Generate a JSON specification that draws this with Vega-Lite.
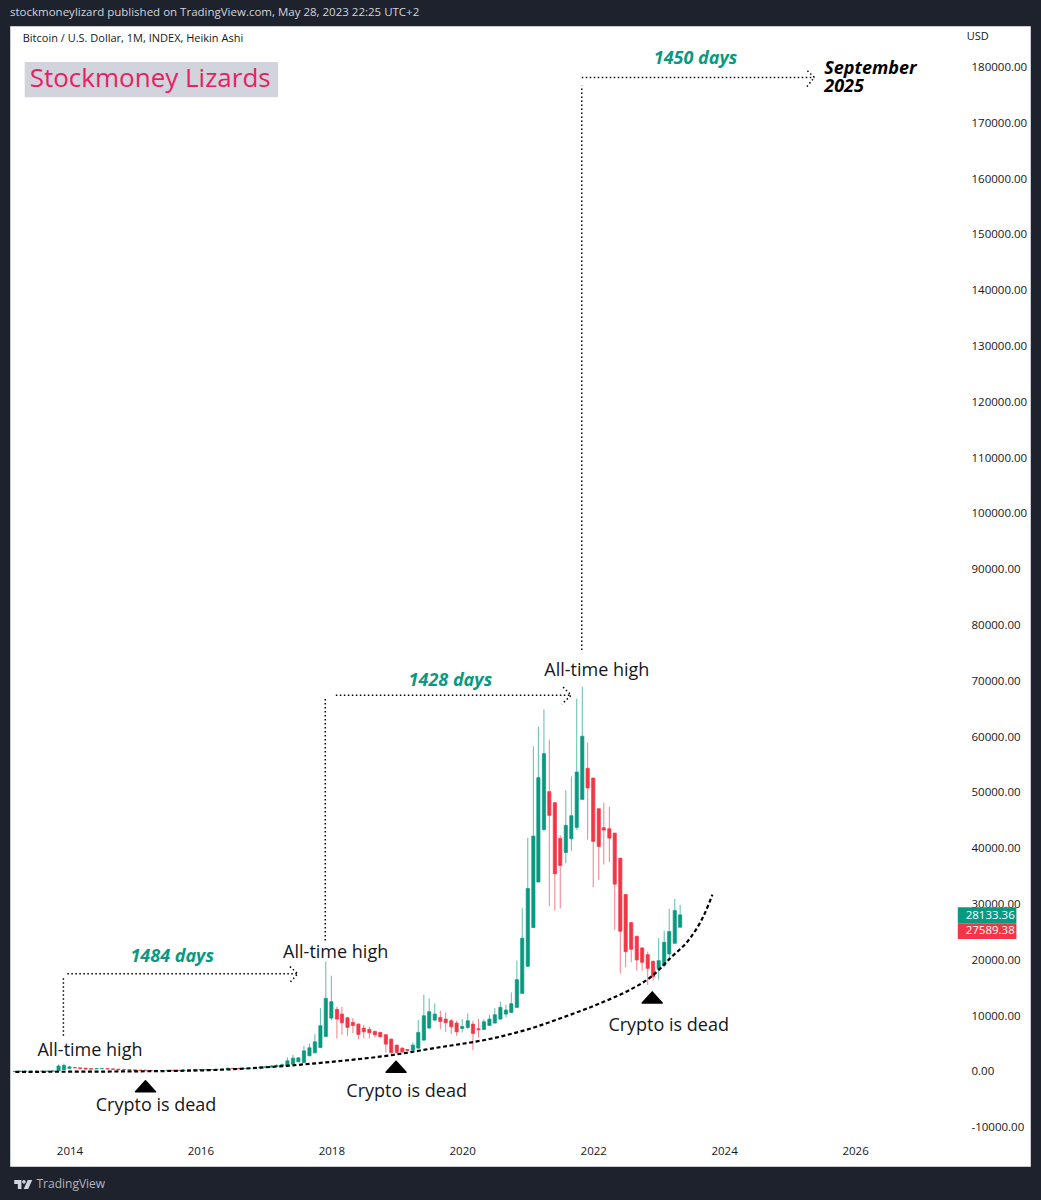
{
  "$schema": "https://vega.github.io/schema/vega-lite/v6.json",
  "autosize": {"type": "none"},
  "padding": {"left": 10, "top": 26, "right": 11, "bottom": 34},
  "width": 1020,
  "height": 1140,
  "background": "#1e222d",
  "view": {"fill": "#ffffff", "stroke": "#c8cad0"},
  "config": {"font": "Open Sans"},
  "title": {
    "text": "stockmoneylizard published on TradingView.com, May 28, 2023 22:25 UTC+2",
    "anchor": "start",
    "frame": "group",
    "color": "#d1d4dc",
    "font": "Open Sans",
    "fontSize": 11.5,
    "fontWeight": "normal",
    "offset": 8
  },
  "datasets": {
    "candles": [
      {"date": "2013-03-01", "open": 45, "close": 75, "high": 95, "low": 35},
      {"date": "2013-04-01", "open": 60, "close": 120, "high": 260, "low": 50},
      {"date": "2013-05-01", "open": 85, "close": 125, "high": 140, "low": 70},
      {"date": "2013-06-01", "open": 105, "close": 113, "high": 130, "low": 90},
      {"date": "2013-07-01", "open": 108, "close": 102, "high": 110, "low": 70},
      {"date": "2013-08-01", "open": 103, "close": 118, "high": 135, "low": 100},
      {"date": "2013-09-01", "open": 110, "close": 128, "high": 140, "low": 85},
      {"date": "2013-10-01", "open": 120, "close": 165, "high": 215, "low": 105},
      {"date": "2013-11-01", "open": 180, "close": 1050, "high": 1330, "low": 150},
      {"date": "2013-12-01", "open": 380, "close": 1150, "high": 1500, "low": 370},
      {"date": "2014-01-01", "open": 620, "close": 880, "high": 1060, "low": 600},
      {"date": "2014-02-01", "open": 750, "close": 700, "high": 860, "low": 620},
      {"date": "2014-03-01", "open": 725, "close": 590, "high": 725, "low": 450},
      {"date": "2014-04-01", "open": 660, "close": 500, "high": 660, "low": 340},
      {"date": "2014-05-01", "open": 580, "close": 470, "high": 620, "low": 420},
      {"date": "2014-06-01", "open": 520, "close": 590, "high": 680, "low": 500},
      {"date": "2014-07-01", "open": 555, "close": 590, "high": 650, "low": 550},
      {"date": "2014-08-01", "open": 570, "close": 500, "high": 590, "low": 440},
      {"date": "2014-09-01", "open": 535, "close": 440, "high": 535, "low": 360},
      {"date": "2014-10-01", "open": 490, "close": 370, "high": 490, "low": 280},
      {"date": "2014-11-01", "open": 430, "close": 360, "high": 450, "low": 310},
      {"date": "2014-12-01", "open": 395, "close": 340, "high": 395, "low": 300},
      {"date": "2015-01-01", "open": 370, "close": 250, "high": 370, "low": 150},
      {"date": "2015-02-01", "open": 310, "close": 230, "high": 310, "low": 200},
      {"date": "2015-03-01", "open": 270, "close": 260, "high": 300, "low": 240},
      {"date": "2015-04-01", "open": 265, "close": 240, "high": 265, "low": 215},
      {"date": "2015-05-01", "open": 250, "close": 235, "high": 250, "low": 230},
      {"date": "2015-06-01", "open": 240, "close": 250, "high": 270, "low": 215},
      {"date": "2015-07-01", "open": 245, "close": 280, "high": 320, "low": 240},
      {"date": "2015-08-01", "open": 265, "close": 250, "high": 285, "low": 200},
      {"date": "2015-09-01", "open": 255, "close": 235, "high": 255, "low": 225},
      {"date": "2015-10-01", "open": 245, "close": 270, "high": 330, "low": 235},
      {"date": "2015-11-01", "open": 255, "close": 340, "high": 500, "low": 250},
      {"date": "2015-12-01", "open": 300, "close": 400, "high": 470, "low": 300},
      {"date": "2016-01-01", "open": 350, "close": 400, "high": 470, "low": 350},
      {"date": "2016-02-01", "open": 375, "close": 405, "high": 450, "low": 370},
      {"date": "2016-03-01", "open": 390, "close": 415, "high": 440, "low": 390},
      {"date": "2016-04-01", "open": 400, "close": 440, "high": 470, "low": 400},
      {"date": "2016-05-01", "open": 420, "close": 480, "high": 550, "low": 420},
      {"date": "2016-06-01", "open": 450, "close": 620, "high": 780, "low": 450},
      {"date": "2016-07-01", "open": 640, "close": 600, "high": 700, "low": 580},
      {"date": "2016-08-01", "open": 620, "close": 570, "high": 620, "low": 470},
      {"date": "2016-09-01", "open": 595, "close": 600, "high": 630, "low": 570},
      {"date": "2016-10-01", "open": 600, "close": 640, "high": 740, "low": 600},
      {"date": "2016-11-01", "open": 620, "close": 720, "high": 760, "low": 620},
      {"date": "2016-12-01", "open": 670, "close": 830, "high": 980, "low": 670},
      {"date": "2017-01-01", "open": 750, "close": 920, "high": 1150, "low": 750},
      {"date": "2017-02-01", "open": 835, "close": 1050, "high": 1200, "low": 835},
      {"date": "2017-03-01", "open": 940, "close": 1150, "high": 1350, "low": 900},
      {"date": "2017-04-01", "open": 1050, "close": 1300, "high": 1500, "low": 1050},
      {"date": "2017-05-01", "open": 1077, "close": 1974, "high": 2573, "low": 1050},
      {"date": "2017-06-01", "open": 1376, "close": 2453, "high": 3052, "low": 1350},
      {"date": "2017-07-01", "open": 1795, "close": 2513, "high": 2600, "low": 1780},
      {"date": "2017-08-01", "open": 1654, "close": 3770, "high": 4668, "low": 1650},
      {"date": "2017-09-01", "open": 2872, "close": 4309, "high": 5087, "low": 2800},
      {"date": "2017-10-01", "open": 3411, "close": 5386, "high": 6763, "low": 3400},
      {"date": "2017-11-01", "open": 4369, "close": 8259, "high": 11431, "low": 4300},
      {"date": "2017-12-01", "open": 6343, "close": 13166, "high": 19810, "low": 6300},
      {"date": "2018-01-01", "open": 9635, "close": 12568, "high": 17236, "low": 9276},
      {"date": "2018-02-01", "open": 11191, "close": 9456, "high": 11670, "low": 5984},
      {"date": "2018-03-01", "open": 10353, "close": 8798, "high": 11670, "low": 6643},
      {"date": "2018-04-01", "open": 9695, "close": 7960, "high": 9875, "low": 6463},
      {"date": "2018-05-01", "open": 8857, "close": 8319, "high": 9635, "low": 6942},
      {"date": "2018-06-01", "open": 8558, "close": 6702, "high": 8678, "low": 5865},
      {"date": "2018-07-01", "open": 7840, "close": 7181, "high": 8438, "low": 6000},
      {"date": "2018-08-01", "open": 7600, "close": 7002, "high": 8079, "low": 5984},
      {"date": "2018-09-01", "open": 7241, "close": 6643, "high": 7361, "low": 6164},
      {"date": "2018-10-01", "open": 7062, "close": 6283, "high": 7181, "low": 6164},
      {"date": "2018-11-01", "open": 6643, "close": 4967, "high": 6763, "low": 3471},
      {"date": "2018-12-01", "open": 5865, "close": 3471, "high": 5984, "low": 3172},
      {"date": "2019-01-01", "open": 4787, "close": 3471, "high": 4847, "low": 3291},
      {"date": "2019-02-01", "open": 4249, "close": 3590, "high": 4369, "low": 3351},
      {"date": "2019-03-01", "open": 4009, "close": 3830, "high": 4100, "low": 3750},
      {"date": "2019-04-01", "open": 3890, "close": 4787, "high": 5266, "low": 3830},
      {"date": "2019-05-01", "open": 4249, "close": 7062, "high": 9276, "low": 4200},
      {"date": "2019-06-01", "open": 5685, "close": 10054, "high": 13825, "low": 5600},
      {"date": "2019-07-01", "open": 7840, "close": 10772, "high": 13166, "low": 7800},
      {"date": "2019-08-01", "open": 9276, "close": 10353, "high": 12269, "low": 9156},
      {"date": "2019-09-01", "open": 9755, "close": 9037, "high": 10952, "low": 7660},
      {"date": "2019-10-01", "open": 9456, "close": 8798, "high": 10653, "low": 7181},
      {"date": "2019-11-01", "open": 9156, "close": 8079, "high": 9456, "low": 6763},
      {"date": "2019-12-01", "open": 8738, "close": 7181, "high": 9156, "low": 6463},
      {"date": "2020-01-01", "open": 7780, "close": 8139, "high": 9456, "low": 7062},
      {"date": "2020-02-01", "open": 7960, "close": 9156, "high": 10473, "low": 7660},
      {"date": "2020-03-01", "open": 8558, "close": 6882, "high": 9156, "low": 3890},
      {"date": "2020-04-01", "open": 7720, "close": 7540, "high": 9456, "low": 6164},
      {"date": "2020-05-01", "open": 7600, "close": 8977, "high": 9456, "low": 7540},
      {"date": "2020-06-01", "open": 8319, "close": 9456, "high": 10234, "low": 8300},
      {"date": "2020-07-01", "open": 8738, "close": 10234, "high": 11431, "low": 8700},
      {"date": "2020-08-01", "open": 9456, "close": 11551, "high": 12568, "low": 9400},
      {"date": "2020-09-01", "open": 10353, "close": 11072, "high": 12029, "low": 9755},
      {"date": "2020-10-01", "open": 10653, "close": 12209, "high": 14244, "low": 10600},
      {"date": "2020-11-01", "open": 11551, "close": 16518, "high": 19930, "low": 11500},
      {"date": "2020-12-01", "open": 14065, "close": 23940, "high": 29326, "low": 14000},
      {"date": "2021-01-01", "open": 18913, "close": 32858, "high": 41955, "low": 18900},
      {"date": "2021-02-01", "open": 25855, "close": 42254, "high": 58354, "low": 25800},
      {"date": "2021-03-01", "open": 34025, "close": 52728, "high": 61825, "low": 34000},
      {"date": "2021-04-01", "open": 43391, "close": 57037, "high": 64937, "low": 43300},
      {"date": "2021-05-01", "open": 50214, "close": 45965, "high": 59551, "low": 29686},
      {"date": "2021-06-01", "open": 48239, "close": 35491, "high": 48239, "low": 28908},
      {"date": "2021-07-01", "open": 41835, "close": 36987, "high": 42374, "low": 29267},
      {"date": "2021-08-01", "open": 39321, "close": 44170, "high": 50453, "low": 37407},
      {"date": "2021-09-01", "open": 41775, "close": 45905, "high": 52967, "low": 39561},
      {"date": "2021-10-01", "open": 43810, "close": 53745, "high": 66912, "low": 43391},
      {"date": "2021-11-01", "open": 48838, "close": 60149, "high": 69007, "low": 48800},
      {"date": "2021-12-01", "open": 54404, "close": 50873, "high": 59012, "low": 41596},
      {"date": "2022-01-01", "open": 52668, "close": 41296, "high": 52668, "low": 33097},
      {"date": "2022-02-01", "open": 47161, "close": 40399, "high": 47161, "low": 34414},
      {"date": "2022-03-01", "open": 43750, "close": 43332, "high": 48239, "low": 37167},
      {"date": "2022-04-01", "open": 43571, "close": 41895, "high": 47461, "low": 37586},
      {"date": "2022-05-01", "open": 42793, "close": 33636, "high": 42793, "low": 25436},
      {"date": "2022-06-01", "open": 38304, "close": 25197, "high": 38304, "low": 17656},
      {"date": "2022-07-01", "open": 31781, "close": 21546, "high": 31781, "low": 18733},
      {"date": "2022-08-01", "open": 26753, "close": 21965, "high": 26753, "low": 19631},
      {"date": "2022-09-01", "open": 24299, "close": 20050, "high": 24299, "low": 18135},
      {"date": "2022-10-01", "open": 22204, "close": 19631, "high": 22324, "low": 18135},
      {"date": "2022-11-01", "open": 21007, "close": 18554, "high": 21546, "low": 15562},
      {"date": "2022-12-01", "open": 19810, "close": 17057, "high": 19930, "low": 16339},
      {"date": "2023-01-01", "open": 18434, "close": 19930, "high": 23940, "low": 16518},
      {"date": "2023-02-01", "open": 19032, "close": 23222, "high": 25316, "low": 18733},
      {"date": "2023-03-01", "open": 21127, "close": 25136, "high": 29207, "low": 19930},
      {"date": "2023-04-01", "open": 23042, "close": 28908, "high": 31002, "low": 23000},
      {"date": "2023-05-01", "open": 25915, "close": 28133, "high": 29925, "low": 25900}
    ],
    "curve": [
      {"date": "2013-03-05", "value": 0},
      {"date": "2014-07-10", "value": 50},
      {"date": "2016-01-15", "value": 270},
      {"date": "2017-02-06", "value": 898},
      {"date": "2018-01-03", "value": 1795},
      {"date": "2018-12-15", "value": 3052},
      {"date": "2019-07-06", "value": 4130},
      {"date": "2020-07-28", "value": 6284},
      {"date": "2021-01-12", "value": 7720},
      {"date": "2021-06-25", "value": 9516},
      {"date": "2022-02-02", "value": 12209},
      {"date": "2022-07-15", "value": 14544},
      {"date": "2022-11-21", "value": 17057},
      {"date": "2023-03-10", "value": 20469},
      {"date": "2023-06-28", "value": 24060},
      {"date": "2023-09-15", "value": 28369},
      {"date": "2023-10-28", "value": 31780}
    ],
    "arrows": [
      {"path": "a1", "step": 1, "date": "2013-11-28", "value": 6464},
      {"path": "a1", "step": 2, "date": "2013-11-28", "value": 16900},
      {"path": "b1", "step": 1, "date": "2013-12-20", "value": 17596},
      {"path": "b1", "step": 2, "date": "2017-06-28", "value": 17596},
      {"path": "c1", "step": 1, "date": "2017-05-15", "value": 18853},
      {"path": "c1", "step": 2, "date": "2017-06-28", "value": 17596},
      {"path": "c1", "step": 3, "date": "2017-05-15", "value": 16034},
      {"path": "a2", "step": 1, "date": "2017-11-28", "value": 23521},
      {"path": "a2", "step": 2, "date": "2017-11-28", "value": 67000},
      {"path": "b2", "step": 1, "date": "2018-01-26", "value": 67511},
      {"path": "b2", "step": 2, "date": "2021-08-31", "value": 67511},
      {"path": "c2", "step": 1, "date": "2021-07-17", "value": 68948},
      {"path": "c2", "step": 2, "date": "2021-08-31", "value": 67511},
      {"path": "c2", "step": 3, "date": "2021-07-10", "value": 65900},
      {"path": "a3", "step": 1, "date": "2021-10-29", "value": 75590},
      {"path": "a3", "step": 2, "date": "2021-10-29", "value": 176731},
      {"path": "b3", "step": 1, "date": "2021-10-29", "value": 178240},
      {"path": "b3", "step": 2, "date": "2025-05-19", "value": 178240},
      {"path": "c3", "step": 1, "date": "2025-04-10", "value": 179425},
      {"path": "c3", "step": 2, "date": "2025-05-19", "value": 178240},
      {"path": "c3", "step": 3, "date": "2025-04-05", "value": 176500}
    ]
  },
  "encoding": {
    "x": {
      "field": "date",
      "type": "temporal",
      "title": null,
      "scale": {"type": "utc", "domain": ["2013-03-03", "2028-08-06"]},
      "axis": {
        "orient": "bottom",
        "offset": -26,
        "domain": false,
        "ticks": false,
        "grid": false,
        "title": null,
        "format": "%Y",
        "labelColor": "#131722",
        "labelFont": "Open Sans",
        "labelFontSize": 11.5,
        "labelPadding": 5,
        "values": [
          {"year": 2014, "month": 1, "date": 1, "utc": true},
          {"year": 2016, "month": 1, "date": 1, "utc": true},
          {"year": 2018, "month": 1, "date": 1, "utc": true},
          {"year": 2020, "month": 1, "date": 1, "utc": true},
          {"year": 2022, "month": 1, "date": 1, "utc": true},
          {"year": 2024, "month": 1, "date": 1, "utc": true},
          {"year": 2026, "month": 1, "date": 1, "utc": true}
        ]
      }
    },
    "y": {
      "field": "value",
      "type": "quantitative",
      "title": null,
      "scale": {"domain": [-16878, 187451], "nice": false, "zero": false},
      "axis": {
        "orient": "right",
        "offset": -65,
        "domain": false,
        "ticks": false,
        "grid": false,
        "title": null,
        "labelColor": "#131722",
        "labelFont": "Open Sans",
        "labelFontSize": 11.5,
        "labelPadding": 6,
        "labelOverlap": false,
        "labelFlush": false,
        "labelExpr": "replace(format(datum.value, '.2f'), '\u2212', '-')",
        "values": [-10000, 0, 10000, 20000, 30000, 40000, 50000, 60000, 70000, 80000, 90000, 100000, 110000, 120000, 130000, 140000, 150000, 160000, 170000, 180000]
      }
    }
  },
  "layer": [
    {
      "data": {"name": "candles"},
      "mark": {"type": "rule", "strokeWidth": 1, "opacity": 0.65},
      "encoding": {
        "y": {"field": "low", "type": "quantitative", "title": null},
        "y2": {"field": "high"},
        "color": {"condition": {"test": "datum.close >= datum.open", "value": "#089981"}, "value": "#f23645"}
      }
    },
    {
      "data": {"name": "candles"},
      "mark": {"type": "bar", "orient": "vertical", "size": 3.2, "strokeWidth": 0.7},
      "encoding": {
        "y": {"field": "open", "type": "quantitative", "title": null},
        "y2": {"field": "close"},
        "color": {"condition": {"test": "datum.close >= datum.open", "value": "#089981"}, "value": "#f23645"},
        "stroke": {"condition": {"test": "datum.close >= datum.open", "value": "#089981"}, "value": "#f23645"}
      }
    },
    {
      "data": {"name": "curve"},
      "mark": {"type": "line", "color": "#000000", "strokeWidth": 2.2, "strokeDash": [4, 2.6], "interpolate": "monotone"}
    },
    {
      "data": {"name": "arrows"},
      "mark": {"type": "line", "color": "#000000", "strokeWidth": 1.5, "strokeDash": [1.5, 2.5]},
      "encoding": {
        "detail": {"field": "path"},
        "order": {"field": "step", "type": "ordinal"}
      }
    },
    {
      "data": {"values": [
        {"date": "2015-03-01", "value": -2603},
        {"date": "2018-12-28", "value": 898},
        {"date": "2022-11-26", "value": 13340}
      ]},
      "mark": {"type": "point", "shape": "M-1 0.55L0 -0.55L1 0.55Z", "filled": true, "size": 400, "color": "#000000", "opacity": 1, "stroke": "#000000", "strokeWidth": 1.5, "strokeJoin": "round"}
    },
    {
      "data": {"values": [
        {"date": "2013-04-26", "date2": "2017-03-10", "value": 180985, "value2": 174700}
      ]},
      "mark": {"type": "rect", "color": "#d1d4dc"},
      "encoding": {"x2": {"field": "date2"}, "y2": {"field": "value2"}}
    },
    {
      "data": {"values": [{"date": "2013-05-24", "value": 177933, "label": "Stockmoney Lizards"}]},
      "mark": {"type": "text", "align": "left", "baseline": "middle", "color": "#e91e63", "font": "Open Sans", "fontSize": 26, "fontWeight": 500},
      "encoding": {"text": {"field": "label"}}
    },
    {
      "data": {"values": [
        {"date": "2014-04-25", "value": 3770, "label": "All-time high"},
        {"date": "2018-01-25", "value": 21366, "label": "All-time high"},
        {"date": "2022-01-21", "value": 71820, "label": "All-time high"},
        {"date": "2015-04-29", "value": -6105, "label": "Crypto is dead"},
        {"date": "2019-02-25", "value": -3591, "label": "Crypto is dead"},
        {"date": "2023-02-26", "value": 8259, "label": "Crypto is dead"}
      ]},
      "mark": {"type": "text", "align": "center", "baseline": "middle", "color": "#131722", "font": "Open Sans", "fontSize": 18},
      "encoding": {"text": {"field": "label"}}
    },
    {
      "data": {"values": [
        {"date": "2015-07-28", "value": 20648, "label": "1484 days"},
        {"date": "2019-10-27", "value": 70025, "label": "1428 days"},
        {"date": "2023-07-26", "value": 181526, "label": "1450 days"}
      ]},
      "mark": {"type": "text", "align": "center", "baseline": "middle", "color": "#089981", "font": "Open Sans", "fontSize": 18, "fontStyle": "italic", "fontWeight": "bold"},
      "encoding": {"text": {"field": "label"}}
    },
    {
      "data": {"values": [
        {"date": "2025-07-13", "value": 179730, "label": "September"},
        {"date": "2025-07-13", "value": 176500, "label": "2025"}
      ]},
      "mark": {"type": "text", "align": "left", "baseline": "middle", "color": "#000000", "font": "Open Sans", "fontSize": 18, "fontStyle": "italic", "fontWeight": "bold"},
      "encoding": {"text": {"field": "label"}}
    },
    {
      "data": {"values": [
        {"date": "2013-04-15", "value": 185033, "label": "Bitcoin / U.S. Dollar, 1M, INDEX, Heikin Ashi"},
        {"date": "2027-09-16", "value": 185477, "label": "USD"}
      ]},
      "mark": {"type": "text", "align": "left", "baseline": "middle", "color": "#131722", "font": "Open Sans", "fontSize": 11},
      "encoding": {"text": {"field": "label"}}
    },
    {
      "data": {"values": [
        {"date": "2027-07-28", "date2": "2028-06-19", "value": 29500, "value2": 26627, "kind": "close"},
        {"date": "2027-07-28", "date2": "2028-06-19", "value": 26627, "value2": 23790, "kind": "open"}
      ]},
      "mark": {"type": "rect"},
      "encoding": {
        "x2": {"field": "date2"},
        "y2": {"field": "value2"},
        "color": {"field": "kind", "type": "nominal", "legend": null, "scale": {"domain": ["close", "open"], "range": ["#089981", "#f23645"]}}
      }
    },
    {
      "data": {"values": [
        {"date": "2027-09-10", "value": 28010, "label": "28133.36"},
        {"date": "2027-09-10", "value": 25227, "label": "27589.38"}
      ]},
      "mark": {"type": "text", "align": "left", "baseline": "middle", "color": "#ffffff", "font": "Open Sans", "fontSize": 11.5},
      "encoding": {"text": {"field": "label"}}
    },
    {
      "data": {"values": [{"date": "2013-04-18", "value": -20200}]},
      "mark": {"type": "point", "shape": "M-1 -0.5H-0.2V0.5H-0.6V-0.05H-1ZM-0.12 -0.3A0.2 0.2 0 1 1 0.28 -0.3A0.2 0.2 0 1 1 -0.12 -0.3ZM0.5 -0.5H1L0.55 0.5H0.05Z", "filled": true, "size": 324, "color": "#d1d4dc", "opacity": 1}
    },
    {
      "data": {"values": [{"date": "2013-07-01", "value": -20110, "label": "TradingView"}]},
      "mark": {"type": "text", "align": "left", "baseline": "middle", "color": "#b2b5be", "font": "Open Sans", "fontSize": 12},
      "encoding": {"text": {"field": "label"}}
    }
  ]
}
